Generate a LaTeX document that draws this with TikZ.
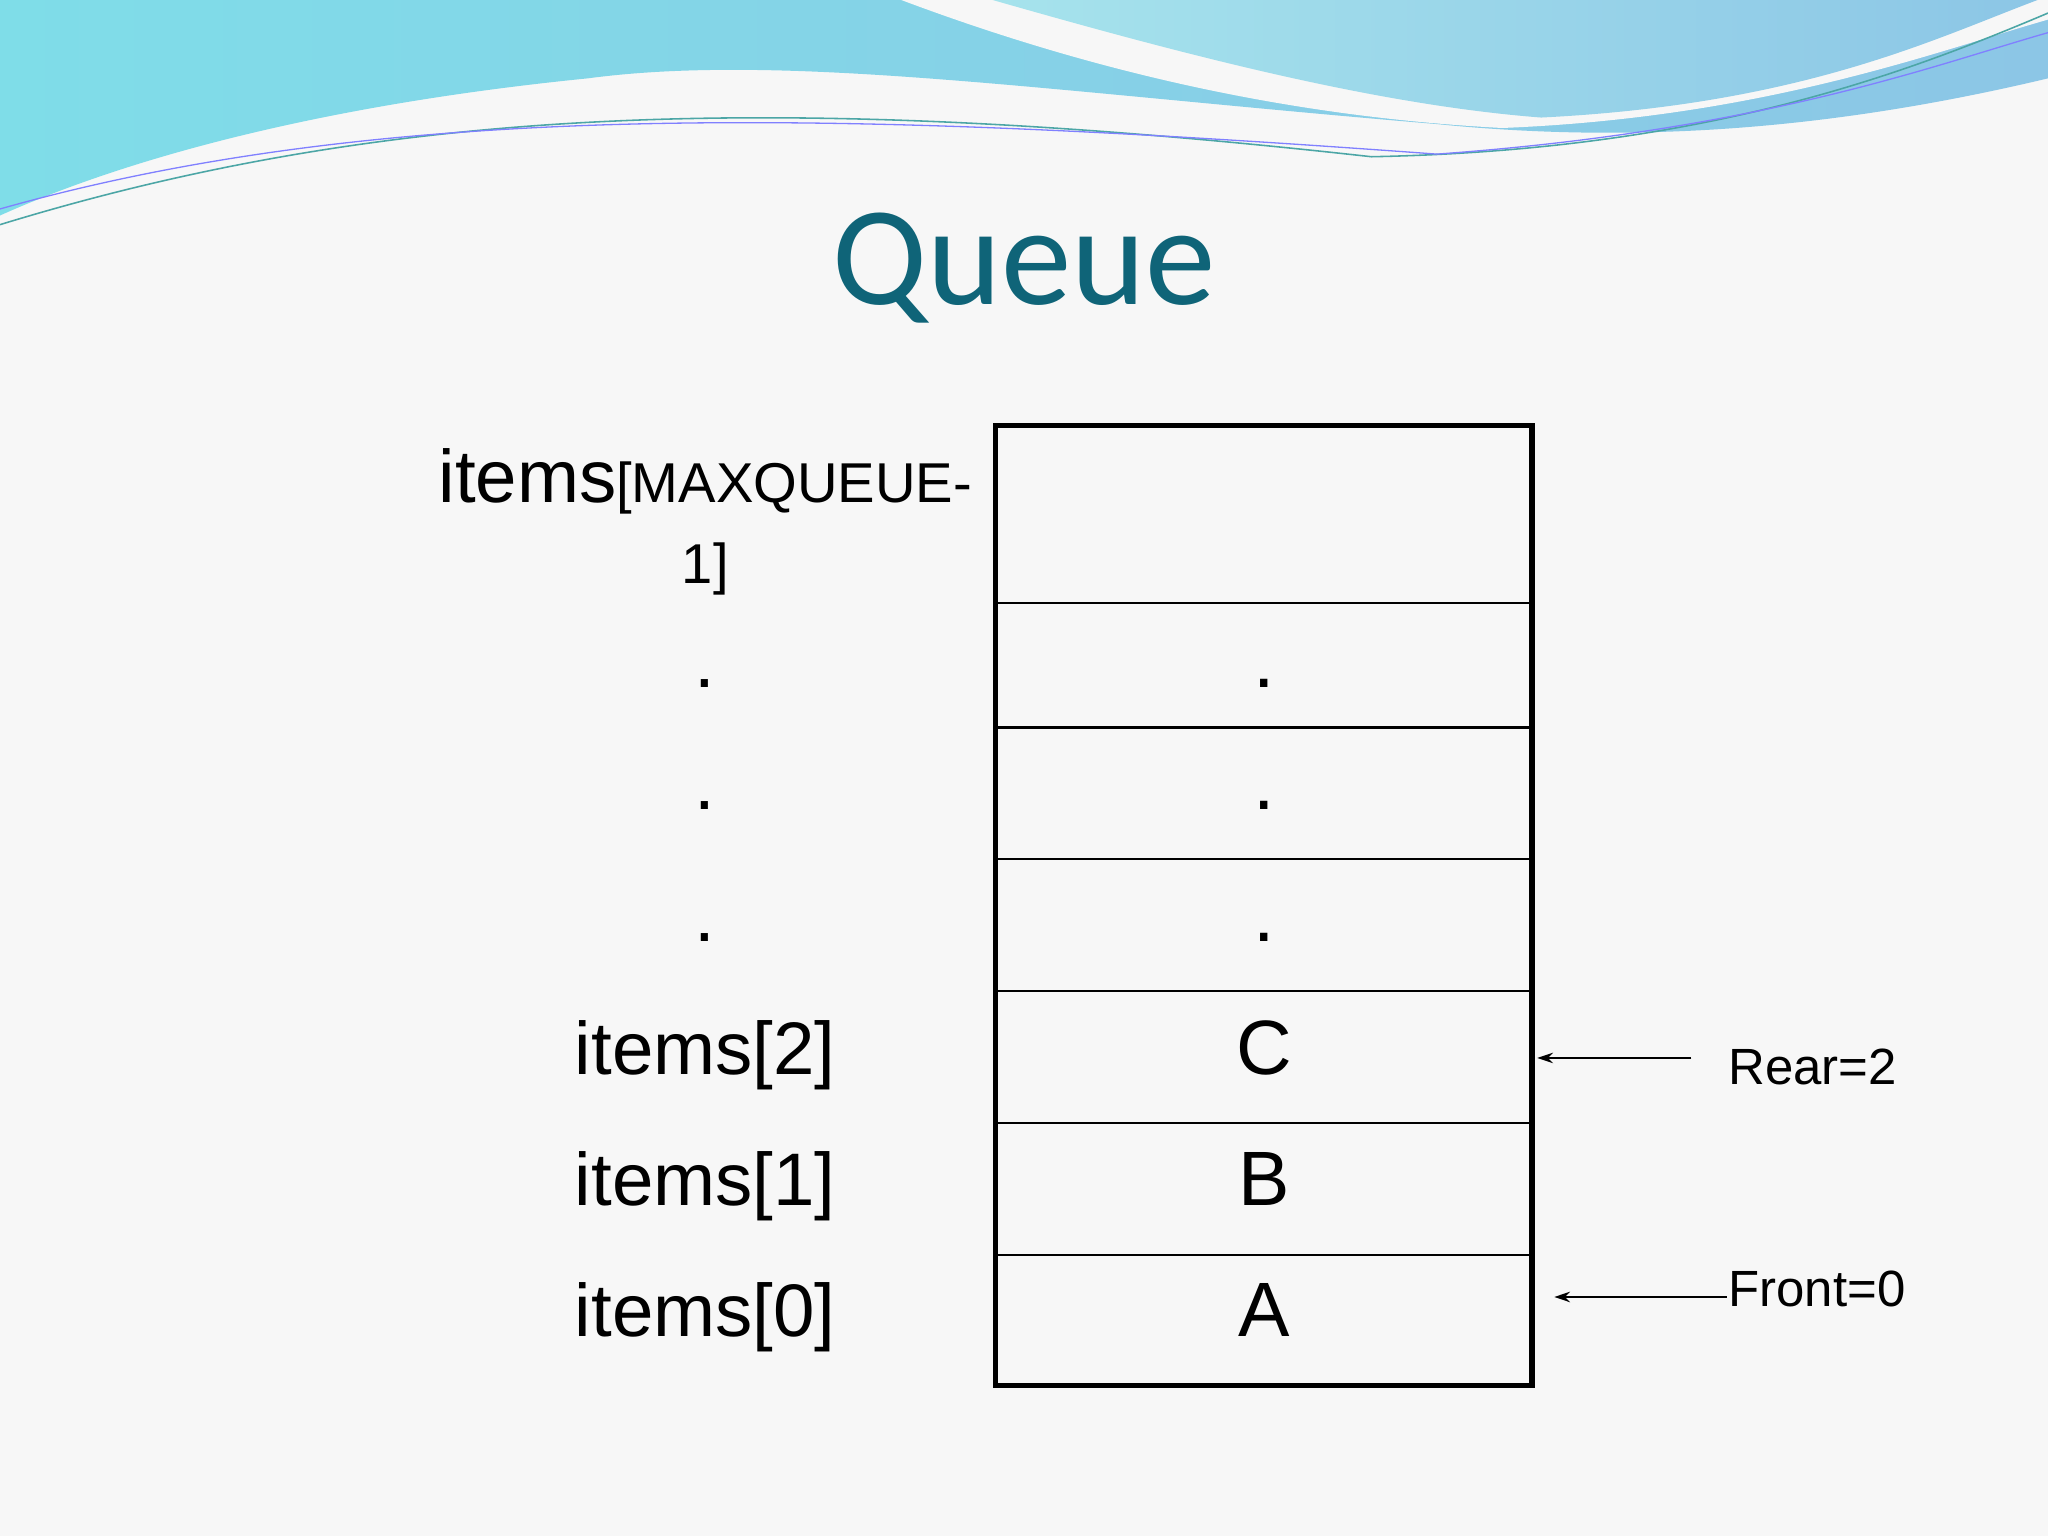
\documentclass[tikz,border=0pt]{standalone}
\usepackage{fontspec}
\usetikzlibrary{arrows.meta}
\setmainfont{Liberation Sans}
\newfontfamily\titlefont{Carlito}
\definecolor{titlec}{HTML}{0F6478}
\definecolor{waveL}{HTML}{7FDDE8}
\definecolor{waveR}{HTML}{8CC6E6}
\definecolor{waveM}{HTML}{A6E3EC}
\begin{document}
\begin{tikzpicture}[x=0.5pt,y=-0.5pt,
  lbl/.style={inner sep=0pt,font=\fontsize{28.5}{34}\selectfont},
  cell/.style={inner sep=0pt,font=\fontsize{29.5}{34}\selectfont},
  ptr/.style={inner sep=0pt,font=\fontsize{19.5}{24}\selectfont},
  arr/.style={-{Stealth[length=6pt,width=4pt]},line width=0.7pt}]
\fill[white!97!black] (0,0) rectangle (1568,1176);
\useasboundingbox (0,0) rectangle (1568,1176);
% top wave
\shade[left color=waveL, right color=waveR]
  (0,0) -- (1568,0) -- (1568,60) .. controls (1400,100) and (1250,110) .. (1100,95)
  .. controls (800,70) and (600,40) .. (450,60) .. controls (250,80) and (100,120) .. (0,165) -- cycle;
\fill[white!97!black] (690,0) .. controls (850,60) and (1000,90) .. (1150,98)
  .. controls (1350,90) and (1480,40) .. (1568,15) -- (1568,0) -- cycle;
\shade[left color=waveM, right color=waveR] (760,0) .. controls (900,40) and (1050,80) .. (1180,90)
  .. controls (1380,80) and (1480,30) .. (1560,0) -- cycle;
\draw[teal!70,line width=0.6pt] (0,172) .. controls (300,80) and (600,70) .. (1050,120) .. controls (1300,115) and (1450,60) .. (1568,10);
\draw[blue!50,line width=0.5pt] (0,160) .. controls (300,75) and (650,85) .. (1100,118) .. controls (1350,100) and (1480,50) .. (1568,25);
% title
\node[inner sep=0pt,text=titlec,font=\titlefont\fontsize{54}{60}\selectfont] (title) at (784,205) {Queue};
% box
\foreach \y [count=\i] in {462,557,658,759,860,961} {\draw[line width=0.8pt] (762,\y) -- (1173,\y);}
\draw[line width=2pt] (762,326) rectangle (1173,1061);
% left labels
\node[lbl,anchor=base] (lmax) at (540,385) {items{\fontsize{21.5}{26}\selectfont[MAXQUEUE-}};
\node[inner sep=0pt,anchor=base,font=\fontsize{21.5}{26}\selectfont] (lmax2) at (540,447) {1]};
\foreach \y [count=\i] in {526,620,721} {
  \node[lbl,anchor=base] (ld\i) at (540,\y) {.};
  \node[cell,anchor=base] (cd\i) at (968,\y) {.};}
\node[lbl,anchor=base] (l2) at (540,823) {items[2]};
\node[lbl,anchor=base] (l1) at (540,923) {items[1]};
\node[lbl,anchor=base] (l0) at (540,1023) {items[0]};
\node[cell,anchor=base] (c) at (968,823) {C};
\node[cell,anchor=base] (b) at (968,923) {B};
\node[cell,anchor=base] (a) at (968,1023) {A};
% pointers
\node[ptr,anchor=base west] (rear) at (1323,830) {Rear=2};
\node[ptr,anchor=base west] (front) at (1323,1000) {Front=0};
\coordinate (rs) at (1295,810); \coordinate (re) at (1177,810);
\coordinate (fs) at (1322,993); \coordinate (fe) at (1190,993);
\draw[arr] (rs) -- (re);
\draw[arr] (fs) -- (fe);
\end{tikzpicture}
\end{document}
